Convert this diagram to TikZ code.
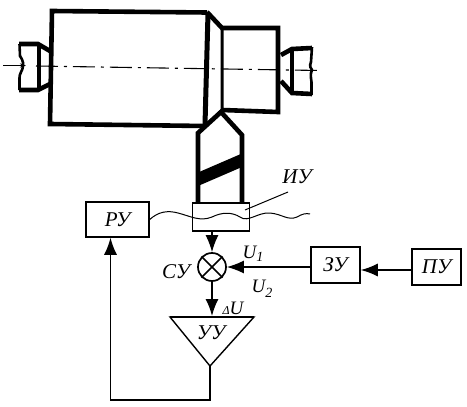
\documentclass[tikz,border=0pt]{standalone}
\usepackage{fontspec}
\setmainfont{Liberation Serif}
\usetikzlibrary{arrows.meta}
\tikzset{
  lbl/.style={inner sep=0pt,font=\itshape\fontsize{21}{21}\selectfont},
  sym/.style={inner sep=0pt,font=\itshape\fontsize{19}{19}\selectfont},
  sub/.style={inner sep=0pt,font=\itshape\fontsize{14}{14}\selectfont},
  box/.style={draw,line width=1.5pt,minimum width=50pt,minimum height=36pt,inner sep=0pt,font=\itshape\fontsize{21}{21}\selectfont},
  heavy/.style={line width=4.6pt,line join=miter},
  medium/.style={line width=2.6pt},
  conn/.style={line width=1.4pt},
  tip/.style={-{Latex[length=17pt,width=13pt]}}
}
\begin{document}
\begin{tikzpicture}[x=1pt,y=-1pt]
\useasboundingbox (0,0) rectangle (467,407);
% workpiece
\draw[heavy] (207,12.5) -- (52,11) -- (50,124) -- (205,126);
\draw[line width=5pt] (208,13) -- (205,125);
\draw[heavy] (207,12) -- (222,28) -- (278,28) -- (278,112) -- (222,110);
\draw[line width=3pt] (222,28) -- (222,110) -- (205,126);
% left centre
\draw[heavy] (50,51) -- (38,44) -- (19,44);
\draw[heavy] (19,90) -- (38,90) -- (50,84);
\draw[line width=4pt] (39,44) -- (39,90);
\draw[medium] (19.5,44) -- (20,56) .. controls (24,62) and (23,64) .. (23,66) .. controls (23,70) and (19,74) .. (19.5,78) -- (19.5,90);
% right centre
\draw[heavy] (281,55) -- (292,49) -- (312,48);
\draw[heavy] (281,81) -- (292,93) -- (312,94);
\draw[line width=4pt] (292,49) -- (292,93);
\draw[medium] (312,47) -- (311,62) .. controls (309,66) and (311,69) .. (312,70) .. controls (310,74) and (311,78) .. (311.5,82) -- (311.5,95);
% axis
\draw[line width=1.1pt,dash pattern=on 22pt off 6pt on 3pt off 6pt] (36,66) -- (320,70.5);
\coordinate (axL) at (3,65.5);
\coordinate (axR) at (26,65.5);
\draw[line width=1pt,-{Stealth[length=6pt,width=4pt]}] (axL) -- (axR);
% tool
\draw[line width=4.6pt,line join=miter] (198,204) -- (198,133) -- (221,112) -- (242,135) -- (242,204);
\fill (198,172.5) -- (242,153.5) -- (242,167) -- (198,186) -- cycle;
% holder
\node[draw,line width=1.5pt,minimum width=57pt,minimum height=28pt,inner sep=0pt,fill=white] (holder) at (221,217) {};
% boxes
\node[box,minimum width=63pt,minimum height=35pt] (ry) at (117.5,219.5) {РУ};
\node[box,minimum width=49pt] (zy) at (335.5,265) {ЗУ};
\node[box,minimum width=49pt] (py) at (436.5,267) {ПУ};
% wavy line
\coordinate (wE) at (310,214);
\draw[line width=1pt] (ry.east) .. controls (158,212) and (167,210) .. (178,213)
  .. controls (190,216) and (200,222) .. (212,217)
  .. controls (222,212) and (232,212) .. (240,217)
  .. controls (248,223) and (258,212) .. (270,213)
  .. controls (282,214) and (288,221) .. (297,217)
  .. controls (302,214) and (306,213) .. (wE);
% summing junction
\node[draw,circle,line width=1.7pt,minimum size=28pt,inner sep=0pt] (su) at (212,267) {};
\draw[line width=1.7pt] (su.north west) -- (su.south east) (su.north east) -- (su.south west);
% amplifier
\coordinate (ta) at (170,317);
\coordinate (tb) at (254,317);
\coordinate (tc) at (210,366);
\draw[line width=1.4pt,line join=miter] (ta) -- (tb) -- (tc) -- cycle;
\draw[line width=2.2pt] (ta) -- (tb);
\node[lbl] (yy) at (211,333) {УУ};
% connectors
\draw[conn,tip] (holder.south -| su.north) -- (su.north);
\draw[conn,tip] (su.south) -- (212,316);
\draw[conn,tip] (zy.west |- su.east) -- (su.east);
\draw[conn,tip] (py.west |- 0,270) -- (zy.east |- 0,270);
\coordinate (c1) at (210,400);
\coordinate (c2) at (110.5,400);
\draw[conn,tip] (tc) -- (c1) -- (c2) -- (c2 |- ry.south);
% labels
\node[lbl] (iy) at (297,177) {ИУ};
\coordinate (leadE) at (245,210);
\draw[line width=1pt] (288,192) -- (leadE);
\node[lbl] (cy) at (176,272) {СУ};
\node[sym] (u1) at (253,254) {U\raisebox{-3pt}{\fontsize{14}{14}\selectfont 1}};
\node[sym] (u2) at (262,289) {U\raisebox{-5pt}{\fontsize{14}{14}\selectfont 2}};
\node[sym] (du) at (233,308) {{\fontsize{12}{12}\selectfont Δ}U};
\end{tikzpicture}
\end{document}
